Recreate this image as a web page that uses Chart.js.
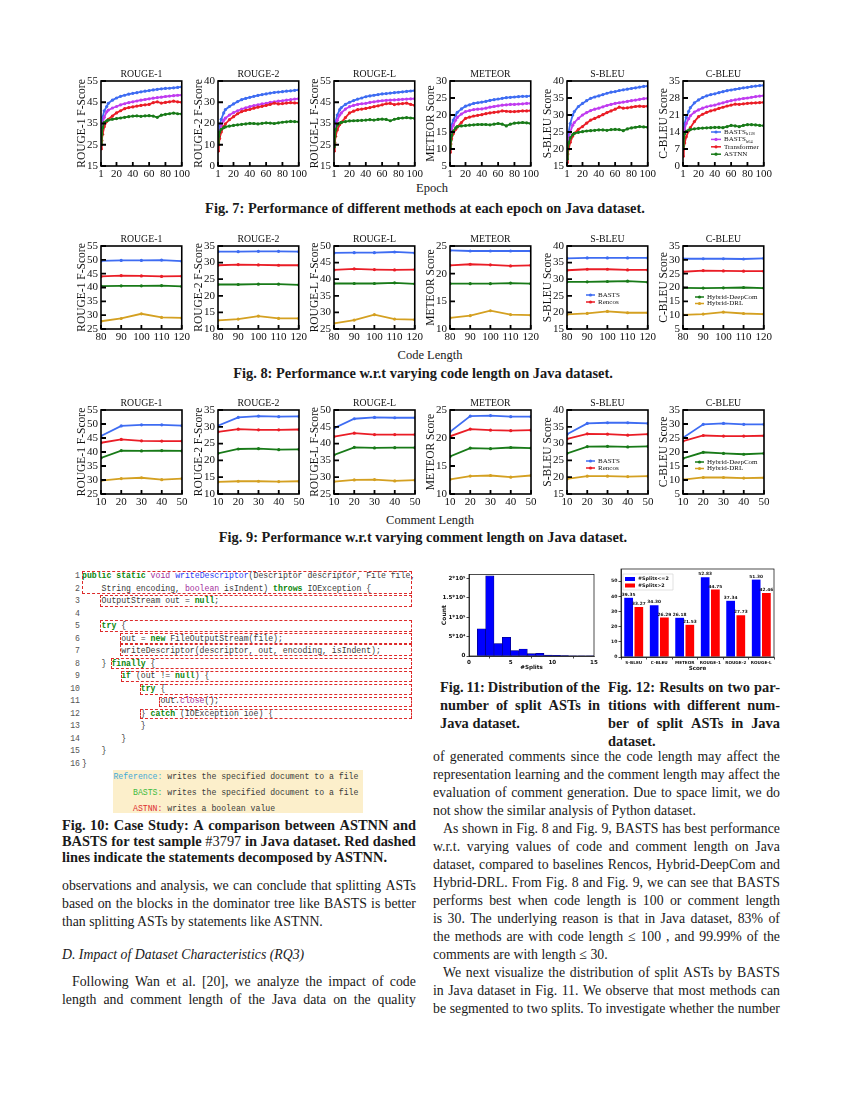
<!DOCTYPE html>
<html>
<head>
<meta charset="utf-8">
<script src="https://cdn.jsdelivr.net/npm/chart.js@4.4.1/dist/chart.umd.min.js"></script>
<style>
html, body { margin: 0; padding: 0; background: #fff; }
body { position: relative; width: 850px; height: 1100px; overflow: hidden; font-family: "Liberation Serif", serif; color: #1a1a1a; }
.t { position: absolute; white-space: nowrap; line-height: 18px; height: 18px; }
.c { transform: translateX(-50%); }
.cap { font-weight: bold; font-size: 14.4px; }
.body { font-size: 13.8px; }
.lbl { font-size: 12.5px; }
m { font-weight: normal; }
.code { position: absolute; font-family: "Liberation Mono", monospace; font-size: 8.6px; color: #3a3a3a; line-height: 12px; height: 12px; white-space: pre; transform: scaleX(0.95); transform-origin: 0 0; }
.ln { position: absolute; left: 60px; width: 21px; text-align: right; font-family: "Liberation Mono", monospace; font-size: 8.6px; color: #555; line-height: 12px; transform: scaleX(0.95); transform-origin: 0 0; }
.kw { color: #0a850a; font-weight: bold; }
.pu { color: #a3309c; }
.fn { color: #2a3af0; }
.box { position: absolute; border: 1px dashed #dd2a2a; box-sizing: border-box; }
.ref { position: absolute; left: 113px; top: 770px; width: 250px; height: 43px; background: #fcefcb; }
.rl { display: inline-block; width: 52px; text-align: right; }
</style>
</head>
<body>

<!-- figure labels and captions -->
<div class="t lbl c" style="left:432px;top:179px">Epoch</div>
<div class="t cap c" style="left:425px;top:199px">Fig. 7: Performance of different methods at each epoch on Java dataset.</div>
<div class="t lbl c" style="left:430px;top:346px">Code Length</div>
<div class="t cap c" style="left:423px;top:364px">Fig. 8: Performance w.r.t varying code length on Java dataset.</div>
<div class="t lbl c" style="left:430px;top:511px">Comment Length</div>
<div class="t cap c" style="left:423px;top:528px">Fig. 9: Performance w.r.t varying comment length on Java dataset.</div>

<!-- Fig 10 reference box -->
<div class="ref"></div>
<div class="code" style="left:113px;top:771px"><span class="rl" style="color:#3fa9d8">Reference:</span> writes the specified document to a file</div>
<div class="code" style="left:113px;top:787px"><span class="rl" style="color:#3fbb3f">BASTS:</span> writes the specified document to a file</div>
<div class="code" style="left:113px;top:803px"><span class="rl" style="color:#dd3030">ASTNN:</span> writes a boolean value</div>

<div class="t cap j" style="left:62px;top:817px;width:354px;line-height:16px">Fig. 10: Case Study: A comparison between ASTNN and</div>
<div class="t cap j" style="left:62px;top:833px;width:354px;line-height:16px">BASTS for test sample <m>#3797</m> in Java dataset. Red dashed</div>
<div class="t cap" style="left:62px;top:849px;line-height:16px">lines indicate the statements decomposed by ASTNN.</div>

<div class="t cap j" style="left:440px;top:678px;width:160px">Fig. 11: Distribution of the</div>
<div class="t cap j" style="left:440px;top:696px;width:160px">number of split ASTs in</div>
<div class="t cap" style="left:440px;top:714px">Java dataset.</div>

<div class="t cap j" style="left:608px;top:678px;width:172px">Fig. 12: Results on two par-</div>
<div class="t cap j" style="left:608px;top:696px;width:172px">titions with different num-</div>
<div class="t cap j" style="left:608px;top:714px;width:172px">ber of split ASTs in Java</div>
<div class="t cap" style="left:608px;top:732px">dataset.</div>

<!-- left column text -->
<div class="t body j" style="left:62px;top:877px;width:354px">observations and analysis, we can conclude that splitting ASTs</div>
<div class="t body j" style="left:62px;top:895px;width:354px">based on the blocks in the dominator tree like BASTS is better</div>
<div class="t body" style="left:62px;top:913px">than splitting ASTs by statements like ASTNN.</div>
<div class="t body" style="left:62px;top:946px;font-style:italic">D. Impact of Dataset Characteristics (RQ3)</div>
<div class="t body j" style="left:72px;top:973px;width:344px">Following Wan et al. [20], we analyze the impact of code</div>
<div class="t body j" style="left:62px;top:991px;width:354px">length and comment length of the Java data on the quality</div>

<!-- right column text -->
<div class="t body j" style="left:433px;top:748px;width:347px">of generated comments since the code length may affect the</div>
<div class="t body j" style="left:433px;top:766px;width:347px">representation learning and the comment length may affect the</div>
<div class="t body j" style="left:433px;top:784px;width:347px">evaluation of comment generation. Due to space limit, we do</div>
<div class="t body" style="left:433px;top:802px">not show the similar analysis of Python dataset.</div>
<div class="t body j" style="left:443px;top:820px;width:337px">As shown in Fig. 8 and Fig. 9, BASTS has best performance</div>
<div class="t body j" style="left:433px;top:838px;width:347px">w.r.t. varying values of code and comment length on Java</div>
<div class="t body j" style="left:433px;top:856px;width:347px">dataset, compared to baselines Rencos, Hybrid-DeepCom and</div>
<div class="t body j" style="left:433px;top:874px;width:347px">Hybrid-DRL. From Fig. 8 and Fig. 9, we can see that BASTS</div>
<div class="t body j" style="left:433px;top:892px;width:347px">performs best when code length is 100 or comment length</div>
<div class="t body j" style="left:433px;top:910px;width:347px">is 30. The underlying reason is that in Java dataset, 83% of</div>
<div class="t body j" style="left:433px;top:928px;width:347px">the methods are with code length ≤ 100 , and 99.99% of the</div>
<div class="t body" style="left:433px;top:946px">comments are with length ≤ 30.</div>
<div class="t body j" style="left:443px;top:964px;width:337px">We next visualize the distribution of split ASTs by BASTS</div>
<div class="t body j" style="left:433px;top:982px;width:347px">in Java dataset in Fig. 11. We observe that most methods can</div>
<div class="t body j" style="left:433px;top:1000px;width:347px">be segmented to two splits. To investigate whether the number</div>

<script>
// ---------- data: Fig. 7 (per epoch) ----------
const epochs = [1, 2, 3, 5, 8, 10, 15, 20, 25, 30, 35, 40, 45, 50, 55, 60, 65, 70, 75, 80, 85, 90, 95, 100];
const epochTicks = [1, 20, 40, 60, 80, 100];

const ep_r1_b128  = [30, 35, 38, 41, 43, 44.5, 46, 47, 47.8, 48.3, 48.8, 49.2, 49.5, 49.9, 50.2, 50.5, 50.8, 51.1, 51.3, 51.5, 51.6, 51.8, 52.0, 52.2];
const ep_r1_b64   = [28, 32, 35, 38, 40.5, 41.3, 42.3, 43, 43.8, 44.3, 44.8, 45.2, 45.6, 46, 46.3, 46.6, 46.9, 47.2, 47.4, 47.7, 47.9, 48.1, 48.3, 48.4];
const ep_r1_trans = [23, 27, 30, 33.5, 36, 37, 38.5, 40, 41, 42, 42.5, 42.8, 43.2, 43.5, 43.8, 44, 44.8, 45.2, 44.6, 44.9, 45.2, 45.5, 45.2, 45];
const ep_r1_astnn = [25, 30, 33, 35.5, 36.3, 36.6, 37, 37.3, 37.6, 37.9, 38.2, 38.5, 38.6, 38.4, 38.6, 38.7, 38.5, 37.9, 38.9, 39.3, 39.6, 39.9, 39.6, 39.5];

const ep_r2_b128  = [12, 16, 19, 22, 25, 26.5, 28, 29.2, 30.3, 31.2, 31.8, 32.3, 32.8, 33.2, 33.6, 33.9, 34.3, 34.6, 34.8, 35, 35.2, 35.4, 35.6, 35.8];
const ep_r2_b64   = [10, 13, 16, 19, 21.5, 22.5, 24, 25.1, 26, 26.8, 27.4, 27.9, 28.4, 28.8, 29.2, 29.5, 29.9, 30.2, 30.5, 30.7, 31, 31.2, 31.5, 31.7];
const ep_r2_trans = [7, 10, 13, 16, 18.5, 19.8, 21.8, 23.2, 24.6, 25.6, 26.2, 26.6, 27.2, 27.7, 28.1, 28.5, 29, 29.6, 29.2, 29.4, 29.6, 29.8, 29.7, 29.6];
const ep_r2_astnn = [10, 14, 16, 17.3, 18, 18.4, 18.8, 19.1, 19.4, 19.6, 19.8, 20.1, 20, 19.8, 20.1, 20.3, 20.2, 20, 20.3, 20.6, 20.8, 21, 20.9, 20.8];

const ep_rl_b128  = [28, 33, 36, 39, 41.5, 42.5, 44, 45, 45.8, 46.5, 47, 47.6, 48, 48.3, 48.6, 48.9, 49.1, 49.3, 49.5, 49.7, 49.9, 50.1, 50.3, 50.5];
const ep_rl_b64   = [26, 30, 33, 36.5, 39, 40, 41.8, 42.9, 43.5, 44, 44.3, 44.5, 44.9, 45.2, 45.5, 45.7, 45.9, 46, 46.1, 46.2, 46.4, 46.5, 46.6, 46.7];
const ep_rl_trans = [22, 26, 29, 32, 34.5, 35.5, 37.8, 40, 40.8, 41.5, 41.8, 42.1, 42.5, 42.9, 43.3, 43.8, 44.3, 44.5, 43.9, 44.2, 44.4, 44.6, 44, 43.5];
const ep_rl_astnn = [24, 29, 32, 34.3, 35.2, 35.5, 35.9, 36.2, 36.3, 36.4, 36.5, 36.6, 36.8, 36.6, 36.9, 37.1, 36.9, 36.3, 37, 37.4, 37.6, 37.8, 37.6, 37.4];

const ep_me_b128  = [13, 15.5, 17, 18.5, 20, 20.8, 21.8, 22.6, 23, 23.4, 23.6, 23.8, 24, 24.3, 24.5, 24.7, 24.9, 25.1, 25.2, 25.3, 25.4, 25.5, 25.5, 25.6];
const ep_me_b64   = [12, 14, 15.5, 17, 18.5, 19.3, 20.3, 21, 21.3, 21.6, 21.7, 21.8, 22, 22.3, 22.5, 22.7, 22.9, 23, 23.1, 23.1, 23.2, 23.3, 23.4, 23.4];
const ep_me_trans = [9, 11.5, 13, 14.5, 15.8, 16.5, 17.8, 19, 19.4, 19.7, 19.9, 20.1, 20.4, 20.6, 20.8, 20.9, 21.2, 21.1, 21, 21, 21.1, 21.2, 21.2, 21.3];
const ep_me_astnn = [10, 12.5, 14, 15.3, 16.2, 16.6, 16.8, 16.9, 17, 17.1, 17.2, 17.2, 17.2, 17.1, 17.3, 17.5, 17.3, 16.8, 17.3, 17.6, 17.7, 17.8, 17.7, 17.5];

const ep_sb_b128  = [20, 23, 25, 27.5, 30, 31, 32.5, 33.4, 34.2, 34.9, 35.3, 35.6, 36, 36.4, 36.7, 36.9, 37.2, 37.4, 37.6, 37.8, 38, 38.2, 38.4, 38.5];
const ep_sb_b64   = [19, 21.5, 23, 25, 27, 27.8, 29, 30, 30.7, 31.3, 31.7, 32, 32.4, 32.8, 33.1, 33.4, 33.6, 33.8, 34, 34.2, 34.4, 34.6, 34.8, 34.9];
const ep_sb_trans = [16, 18.5, 20, 22, 23.8, 24.6, 25.8, 26.6, 27.6, 28.5, 29, 29.5, 30.1, 30.7, 31.2, 31.7, 32.3, 32, 32.1, 32.3, 32.5, 32.6, 32.5, 32.6];
const ep_sb_astnn = [17, 20, 21.8, 23.3, 24.2, 24.6, 24.9, 25.1, 25.3, 25.4, 25.5, 25.6, 25.6, 25.5, 25.7, 25.8, 25.7, 25.4, 25.9, 26.2, 26.4, 26.6, 26.5, 26.4];

const ep_cb_b128  = [12, 15.5, 17.5, 20, 22.5, 24, 26, 27.2, 28.2, 28.9, 29.4, 29.7, 30.2, 30.6, 31, 31.3, 31.6, 31.9, 32.2, 32.4, 32.7, 32.9, 33.1, 33.2];
const ep_cb_b64   = [10, 13, 15, 17.5, 19.5, 20.7, 22.2, 23.1, 23.8, 24.4, 24.8, 25.1, 25.6, 26, 26.5, 26.9, 27.2, 27.5, 27.8, 28, 28.3, 28.6, 28.8, 29];
const ep_cb_trans = [4, 7, 9.5, 12, 14.5, 15.8, 18.3, 20.3, 21.3, 22.1, 22.7, 23.1, 23.7, 24.2, 24.7, 25.1, 25.5, 25.4, 25.6, 25.8, 25.9, 26, 26.1, 26.2];
const ep_cb_astnn = [8, 11.5, 13.3, 14.3, 14.8, 15, 15.3, 15.5, 15.6, 15.7, 15.8, 15.9, 15.9, 15.8, 16.2, 16.7, 16.5, 16.2, 16.7, 17, 17, 16.9, 16.7, 16.6];

// ---------- data: Fig. 8 (code length) ----------
const codeLen = [80, 90, 100, 110, 120];
const cl_r1_basts = [49.6, 49.8, 49.8, 49.9, 49.5];
const cl_r1_rencos = [44.0, 44.3, 44.2, 44.0, 44.1];
const cl_r1_hdc = [40.5, 40.6, 40.6, 40.7, 40.4];
const cl_r1_hdrl = [27.8, 28.8, 30.5, 29.2, 29.0];
const cl_r2_basts = [33.3, 33.3, 33.4, 33.4, 33.3];
const cl_r2_rencos = [29.2, 29.4, 29.3, 29.2, 29.2];
const cl_r2_hdc = [23.4, 23.4, 23.5, 23.5, 23.3];
const cl_r2_hdrl = [12.6, 13.0, 13.9, 13.2, 13.2];
const cl_rl_basts = [47.9, 48.0, 48.0, 48.2, 47.9];
const cl_rl_rencos = [42.8, 43.1, 42.9, 42.8, 42.9];
const cl_rl_hdc = [38.7, 38.7, 38.7, 38.9, 38.6];
const cl_rl_hdrl = [26.7, 27.7, 29.3, 28.0, 27.8];
const cl_me_basts = [24.2, 24.1, 24.1, 24.1, 24.1];
const cl_me_rencos = [21.5, 21.7, 21.6, 21.4, 21.5];
const cl_me_hdc = [18.2, 18.2, 18.2, 18.3, 18.2];
const cl_me_hdrl = [12.0, 12.4, 13.3, 12.6, 12.5];
const cl_sb_basts = [36.3, 36.4, 36.4, 36.4, 36.4];
const cl_sb_rencos = [32.7, 33.0, 33.0, 32.8, 32.8];
const cl_sb_hdc = [29.2, 29.2, 29.3, 29.4, 29.1];
const cl_sb_hdrl = [19.4, 19.7, 20.3, 19.9, 19.9];
const cl_cb_basts = [30.4, 30.4, 30.4, 30.3, 30.5];
const cl_cb_rencos = [25.7, 26.1, 26.0, 25.9, 25.9];
const cl_cb_hdc = [19.9, 19.8, 19.9, 20.0, 19.8];
const cl_cb_hdrl = [10.1, 10.4, 11.1, 10.6, 10.4];

// ---------- data: Fig. 9 (comment length) ----------
const commentLen = [10, 20, 30, 40, 50];
const ml_r1_basts = [45.7, 49.3, 49.7, 49.7, 49.4];
const ml_r1_rencos = [43.3, 44.5, 44.0, 43.9, 43.9];
const ml_r1_hdc = [37.9, 40.5, 40.4, 40.5, 40.4];
const ml_r1_hdrl = [29.8, 30.5, 30.8, 30.1, 30.5];
const ml_r2_basts = [30.3, 32.8, 33.2, 33.0, 33.1];
const ml_r2_rencos = [28.5, 29.3, 29.1, 29.1, 29.2];
const ml_r2_hdc = [22.1, 23.4, 23.5, 23.2, 23.3];
const ml_r2_hdrl = [13.6, 13.8, 13.8, 13.7, 13.8];
const ml_rl_basts = [44.6, 47.4, 47.8, 47.7, 47.7];
const ml_rl_rencos = [42.1, 43.1, 42.7, 42.7, 42.7];
const ml_rl_hdc = [36.6, 38.9, 38.7, 38.8, 38.8];
const ml_rl_hdrl = [28.7, 29.2, 29.3, 28.9, 29.1];
const ml_me_basts = [21.1, 23.9, 24.0, 23.8, 23.8];
const ml_me_rencos = [20.3, 21.6, 21.4, 21.3, 21.4];
const ml_me_hdc = [16.7, 18.2, 18.1, 18.3, 18.2];
const ml_me_hdrl = [12.6, 13.2, 13.3, 13.0, 13.3];
const ml_sb_basts = [32.8, 36.0, 36.2, 36.2, 36.0];
const ml_sb_rencos = [31.4, 32.9, 32.8, 32.5, 32.8];
const ml_sb_hdc = [27.1, 29.1, 29.2, 29.0, 29.2];
const ml_sb_hdrl = [19.5, 20.3, 20.3, 20.2, 20.3];
const ml_cb_basts = [25.1, 29.9, 30.2, 29.9, 29.9];
const ml_cb_rencos = [23.9, 25.9, 25.7, 25.7, 25.8];
const ml_cb_hdc = [17.7, 19.9, 19.5, 19.2, 19.5];
const ml_cb_hdrl = [10.1, 10.9, 10.9, 10.7, 10.8];

// ---------- data: Fig. 11 / Fig. 12 ----------
const splitBinStarts = [1, 2, 3, 4, 5, 6, 7, 8, 9, 10, 11, 12, 13, 14];
const splitCounts = [70000, 206000, 32000, 48000, 14000, 18000, 6000, 7000, 2500, 2000, 1000, 500, 300, 100];
const splitTicksX = [0, 5, 10, 15];
const splitTicksY = [0, 50000, 100000, 150000, 200000];
const splitTickLabels = ['0', '5*10\u2074', '1*10\u2075', '1.5*10\u2075', '2*10\u2075'];

const scoreNames = ['S-BLEU', 'C-BLEU', 'METEOR', 'ROUGE-1', 'ROUGE-2', 'ROUGE-L'];
const scoreFew = [39.35, 34.30, 26.18, 52.83, 37.34, 51.30];
const scoreMany = [33.27, 26.29, 21.53, 44.75, 27.73, 42.46];
const scoreTicks = [0, 10, 20, 30, 40, 50];

// ---------- shared axis text ----------
const metricNames = ['ROUGE-1', 'ROUGE-2', 'ROUGE-L', 'METEOR', 'S-BLEU', 'C-BLEU'];
const yTitles = ['ROUGE-1 F-Score', 'ROUGE-2 F-Score', 'ROUGE-L F-Score', 'METEOR Score', 'S-BLEU Score', 'C-BLEU Score'];
const yTicksEpoch = [[15, 25, 35, 45, 55], [0, 10, 20, 30, 40], [15, 25, 35, 45, 55], [5, 10, 15, 20, 25, 30], [15, 20, 25, 30, 35, 40], [0, 7, 14, 21, 28, 35]];
const yTicksLen = [[25, 30, 35, 40, 45, 50, 55], [10, 15, 20, 25, 30, 35], [25, 30, 35, 40, 45, 50], [10, 15, 20, 25], [15, 20, 25, 30, 35, 40], [5, 10, 15, 20, 25, 30, 35]];

const BLUE = '#3e6cf2', MAG = '#c03cf0', RED = '#ea1d26', GRN = '#187a18', GOLD = '#d4a021';
const SERIF = '"Liberation Serif", serif';
const SANS = '"DejaVu Sans", sans-serif';
Chart.defaults.font.family = SERIF;
Chart.defaults.color = '#111';

// spread justified single lines word by word
document.querySelectorAll('.j').forEach(el => {
  const words = el.innerHTML.trim().split(/\s+/);
  el.innerHTML = words.map(w => '<span>' + w + '</span>').join('');
  el.style.display = 'flex';
  el.style.justifyContent = 'space-between';
});

// legends drawn inside the plot, keyed by canvas id
const legendSpecs = {
  f7cb: { dx: 28, dy: 51, gap: 7.4, len: 10, size: 7, items: [['BASTS', 'b128', BLUE], ['BASTS', 'b64', MAG], ['Transformer', '', RED], ['ASTNN', '', GRN]] },
  f8sb: { dx: 19, dy: 49, gap: 7, len: 9, size: 7, items: [['BASTS', '', BLUE], ['Rencos', '', RED]] },
  f8cb: { dx: 12, dy: 51, gap: 6.5, len: 9, size: 7, items: [['Hybrid-DeepCom', '', GRN], ['Hybrid-DRL', '', GOLD]] },
  f9sb: { dx: 19, dy: 51, gap: 7, len: 9, size: 7, items: [['BASTS', '', BLUE], ['Rencos', '', RED]] },
  f9cb: { dx: 12, dy: 52, gap: 6.5, len: 9, size: 7, items: [['Hybrid-DeepCom', '', GRN], ['Hybrid-DRL', '', GOLD]] },
  f12: { dx: 4, dy: 10, gap: 6.5, len: 10, size: 4.8, patch: true, box: true, items: [['#Splits<=2', '', '#0000ff'], ['#Splits>2', '', '#ff0000']] }
};

// frame box, inward ticks and panel title
const framePlugin = {
  id: 'frame',
  afterDraw(chart, args, o) {
    if (!o.lw) return;
    const { ctx, chartArea: a, scales: { x, y } } = chart;
    ctx.save();
    ctx.strokeStyle = '#000';
    ctx.lineWidth = o.lw;
    ctx.strokeRect(a.left, a.top, a.right - a.left, a.bottom - a.top);
    if (o.inward) {
      ctx.lineWidth = 1.8;
      ctx.beginPath();
      x.ticks.forEach(t => { const p = x.getPixelForValue(t.value); ctx.moveTo(p, a.bottom); ctx.lineTo(p, a.bottom - 4); });
      y.ticks.forEach(t => { const p = y.getPixelForValue(t.value); ctx.moveTo(a.left, p); ctx.lineTo(a.left + 5, p); });
      ctx.stroke();
    }
    if (o.title) {
      ctx.fillStyle = '#111';
      ctx.font = '9.8px ' + SERIF;
      ctx.textAlign = 'center';
      ctx.textBaseline = 'middle';
      ctx.fillText(o.title, (a.left + a.right) / 2, a.top - 7);
    }
    ctx.restore();
  }
};

const legendPlugin = {
  id: 'inLegend',
  afterDraw(chart) {
    const spec = legendSpecs[chart.canvas.id];
    if (!spec) return;
    const { ctx, chartArea: a } = chart;
    ctx.save();
    const x0 = a.left + spec.dx;
    if (spec.box) {
      ctx.strokeStyle = '#ccc';
      ctx.lineWidth = 0.6;
      ctx.fillStyle = 'rgba(255,255,255,0.8)';
      ctx.beginPath();
      ctx.rect(x0 - 2, a.top + spec.dy - 5, 50, spec.gap * spec.items.length + 3);
      ctx.fill(); ctx.stroke();
    }
    spec.items.forEach((it, i) => {
      const yy = a.top + spec.dy + i * spec.gap;
      ctx.fillStyle = it[2];
      ctx.strokeStyle = it[2];
      if (spec.patch) {
        ctx.fillRect(x0, yy - 2, spec.len, 4);
      } else {
        ctx.lineWidth = 1.5;
        ctx.beginPath(); ctx.moveTo(x0, yy); ctx.lineTo(x0 + spec.len, yy); ctx.stroke();
        ctx.beginPath(); ctx.arc(x0 + spec.len / 2, yy, 1.6, 0, Math.PI * 2); ctx.fill();
      }
      ctx.fillStyle = '#111';
      ctx.textBaseline = 'middle';
      ctx.textAlign = 'left';
      ctx.font = (spec.patch ? 'bold ' + spec.size + 'px ' + SANS : spec.size + 'px ' + SERIF);
      const tx = x0 + spec.len + 3;
      ctx.fillText(it[0], tx, yy);
      if (it[1]) {
        const w = ctx.measureText(it[0]).width;
        ctx.font = (spec.size * 0.62) + 'px ' + SERIF;
        ctx.fillText(it[1], tx + w + 0.3, yy + 2);
      }
    });
    ctx.restore();
  }
};

const barLabelPlugin = {
  id: 'barLabels',
  afterDatasetsDraw(chart, args, o) {
    if (!o.show) return;
    const { ctx } = chart;
    ctx.save();
    ctx.font = 'bold 4.3px ' + SANS;
    ctx.fillStyle = '#111';
    ctx.textAlign = 'center';
    ctx.textBaseline = 'bottom';
    chart.data.datasets.forEach((ds, i) => {
      chart.getDatasetMeta(i).data.forEach((el, j) => ctx.fillText(ds.data[j].toFixed(2), el.x, el.y - 0.5));
    });
    ctx.restore();
  }
};

Chart.register(framePlugin, legendPlugin, barLabelPlugin);

function addCanvas(left, top, w, h, id) {
  const d = document.createElement('div');
  d.style.cssText = 'position:absolute;left:' + left + 'px;top:' + top + 'px;width:' + w + 'px;height:' + h + 'px';
  const c = document.createElement('canvas');
  if (id) c.id = id;
  d.appendChild(c);
  document.body.appendChild(d);
  return c;
}

const panelLefts = [101, 218, 334, 450, 567, 683];
const plotW = 81;

function linePanel(i, plotTop, plotH, xs, xTicks, yTicks, series, id) {
  const c = addCanvas(panelLefts[i] - 30, plotTop - 14, plotW + 40, plotH + 28, id);
  new Chart(c, {
    type: 'line',
    data: {
      datasets: series.map(s => ({
        label: s[0],
        data: xs.map((x, k) => ({ x: x, y: s[1][k] })),
        borderColor: s[2], backgroundColor: s[2],
        borderWidth: 1.8, pointRadius: 1.6, pointBorderWidth: 0, pointHoverRadius: 0,
        fill: false, tension: 0
      }))
    },
    options: {
      animation: false, responsive: true, maintainAspectRatio: false, events: [],
      layout: { padding: { top: 14, right: 10, left: 0, bottom: 0 } },
      plugins: { legend: { display: false }, tooltip: { enabled: false }, frame: { title: metricNames[i], inward: true, lw: 1.6 } },
      scales: {
        x: {
          type: 'linear', min: xTicks[0], max: xTicks[xTicks.length - 1],
          afterBuildTicks: s => { s.ticks = xTicks.map(v => ({ value: v })); },
          afterFit: s => { s.height = 14; },
          grid: { display: false, drawTicks: false }, border: { display: false },
          ticks: { font: { size: 11 }, padding: 2, maxRotation: 0, autoSkip: false }
        },
        y: {
          min: yTicks[0], max: yTicks[yTicks.length - 1],
          afterBuildTicks: s => { s.ticks = yTicks.map(v => ({ value: v })); },
          afterFit: s => { s.width = 30; },
          grid: { display: false, drawTicks: false }, border: { display: false },
          ticks: { font: { size: 11 }, padding: 3, autoSkip: false },
          title: { display: true, text: yTitles[i], font: { size: 11.5 }, padding: { top: 4, bottom: 0 } }
        }
      }
    }
  });
}

// Fig. 7
const epochSeries = [
  [ep_r1_b128, ep_r1_b64, ep_r1_trans, ep_r1_astnn],
  [ep_r2_b128, ep_r2_b64, ep_r2_trans, ep_r2_astnn],
  [ep_rl_b128, ep_rl_b64, ep_rl_trans, ep_rl_astnn],
  [ep_me_b128, ep_me_b64, ep_me_trans, ep_me_astnn],
  [ep_sb_b128, ep_sb_b64, ep_sb_trans, ep_sb_astnn],
  [ep_cb_b128, ep_cb_b64, ep_cb_trans, ep_cb_astnn]
];
epochSeries.forEach((s, i) => {
  linePanel(i, 81, 85, epochs, epochTicks, yTicksEpoch[i],
    [['ASTNN', s[3], GRN], ['Transformer', s[2], RED], ['BASTS b64', s[1], MAG], ['BASTS b128', s[0], BLUE]],
    i === 5 ? 'f7cb' : null);
});

// Fig. 8
const codeSeries = [
  [cl_r1_basts, cl_r1_rencos, cl_r1_hdc, cl_r1_hdrl],
  [cl_r2_basts, cl_r2_rencos, cl_r2_hdc, cl_r2_hdrl],
  [cl_rl_basts, cl_rl_rencos, cl_rl_hdc, cl_rl_hdrl],
  [cl_me_basts, cl_me_rencos, cl_me_hdc, cl_me_hdrl],
  [cl_sb_basts, cl_sb_rencos, cl_sb_hdc, cl_sb_hdrl],
  [cl_cb_basts, cl_cb_rencos, cl_cb_hdc, cl_cb_hdrl]
];
codeSeries.forEach((s, i) => {
  linePanel(i, 246, 83, codeLen, codeLen, yTicksLen[i],
    [['Hybrid-DRL', s[3], GOLD], ['Hybrid-DeepCom', s[2], GRN], ['Rencos', s[1], RED], ['BASTS', s[0], BLUE]],
    i === 4 ? 'f8sb' : (i === 5 ? 'f8cb' : null));
});

// Fig. 9
const commentSeries = [
  [ml_r1_basts, ml_r1_rencos, ml_r1_hdc, ml_r1_hdrl],
  [ml_r2_basts, ml_r2_rencos, ml_r2_hdc, ml_r2_hdrl],
  [ml_rl_basts, ml_rl_rencos, ml_rl_hdc, ml_rl_hdrl],
  [ml_me_basts, ml_me_rencos, ml_me_hdc, ml_me_hdrl],
  [ml_sb_basts, ml_sb_rencos, ml_sb_hdc, ml_sb_hdrl],
  [ml_cb_basts, ml_cb_rencos, ml_cb_hdc, ml_cb_hdrl]
];
commentSeries.forEach((s, i) => {
  linePanel(i, 410, 84, commentLen, commentLen, yTicksLen[i],
    [['Hybrid-DRL', s[3], GOLD], ['Hybrid-DeepCom', s[2], GRN], ['Rencos', s[1], RED], ['BASTS', s[0], BLUE]],
    i === 4 ? 'f9sb' : (i === 5 ? 'f9cb' : null));
});

// small matplotlib-like axes for Fig. 11 and Fig. 12
const smallAxis = (size) => ({
  grid: { display: true, drawOnChartArea: false, drawTicks: true, tickLength: 2.5, color: '#000', lineWidth: 0.7 },
  border: { display: true, color: '#000', width: 0.7 },
  ticks: { font: { family: SANS, size: size, weight: 'bold' }, color: '#111', padding: 1, autoSkip: false, maxRotation: 0 }
});

// Fig. 11 histogram
{
  const c = addCanvas(437, 570, 163, 102);
  const xa = smallAxis(5.6), ya = smallAxis(5.6);
  ya.ticks.callback = (v, idx) => splitTickLabels[idx];
  new Chart(c, {
    type: 'bar',
    data: { datasets: [{ data: splitBinStarts.map((b, k) => ({ x: b + 0.5, y: splitCounts[k] })), backgroundColor: '#0000ff', borderColor: '#000070', borderWidth: 0.6, barPercentage: 1, categoryPercentage: 1 }] },
    options: {
      animation: false, responsive: true, maintainAspectRatio: false, events: [],
      layout: { padding: { top: 4, right: 6, left: 0, bottom: 0 } },
      plugins: { legend: { display: false }, tooltip: { enabled: false }, frame: { lw: 0.7 } },
      scales: {
        x: Object.assign(xa, {
          type: 'linear', min: 0, max: 15, offset: false,
          afterBuildTicks: s => { s.ticks = splitTicksX.map(v => ({ value: v })); },
          afterFit: s => { s.height = 16; },
          title: { display: true, text: '#Splits', font: { family: SANS, size: 5.6, weight: 'bold' }, color: '#111', padding: { top: 0, bottom: 1 } }
        }),
        y: Object.assign(ya, {
          min: 0, max: 210000,
          afterBuildTicks: s => { s.ticks = splitTicksY.map(v => ({ value: v })); },
          afterFit: s => { s.width = 32; },
          title: { display: true, text: 'Count', font: { family: SANS, size: 6, weight: 'bold' }, color: '#111', padding: { top: 4, bottom: 0 } }
        })
      }
    }
  });
}

// Fig. 12 grouped bars
{
  const c = addCanvas(603, 563, 175, 110, 'f12');
  const xa = smallAxis(4.2), ya = smallAxis(4.6);
  new Chart(c, {
    type: 'bar',
    data: {
      labels: scoreNames,
      datasets: [
        { label: '#Splits<=2', data: scoreFew, backgroundColor: '#0000ff', borderColor: '#ffffff', borderWidth: 0.4, barPercentage: 0.94, categoryPercentage: 0.8 },
        { label: '#Splits>2', data: scoreMany, backgroundColor: '#ff0000', borderColor: '#ffffff', borderWidth: 0.4, barPercentage: 0.94, categoryPercentage: 0.8 }
      ]
    },
    options: {
      animation: false, responsive: true, maintainAspectRatio: false, events: [],
      layout: { padding: { top: 6, right: 4, left: 0, bottom: 0 } },
      plugins: { legend: { display: false }, tooltip: { enabled: false }, frame: { lw: 0.7 }, barLabels: { show: true } },
      scales: {
        x: Object.assign(xa, {
          afterFit: s => { s.height = 16; },
          title: { display: true, text: 'Score', font: { family: SANS, size: 5.6, weight: 'bold' }, color: '#111', padding: { top: 0, bottom: 1 } }
        }),
        y: Object.assign(ya, {
          min: 0, max: 58,
          afterBuildTicks: s => { s.ticks = scoreTicks.map(v => ({ value: v })); },
          afterFit: s => { s.width = 18; }
        })
      }
    }
  });
}

// Fig. 10 code listing
const codeLines = [
  '<span class="kw">public static</span> <span class="pu">void</span> <span class="fn">writeDescriptor</span>(Descriptor descriptor, File file,',
  '    String encoding, <span class="pu">boolean</span> isIndent) <span class="kw">throws</span> IOException {',
  '    OutputStream out = <span class="kw">null</span>;',
  '',
  '    <span class="kw">try</span> {',
  '        out = <span class="kw">new</span> FileOutputStream(file);',
  '        writeDescriptor(descriptor, out, encoding, isIndent);',
  '    } <span class="kw">finally</span> {',
  '        <span class="kw">if</span> (out != <span class="kw">null</span>) {',
  '            <span class="kw">try</span> {',
  '                out.<span class="pu">close</span>();',
  '            } <span class="kw">catch</span> (IOException ioe) {',
  '            }',
  '        }',
  '    }',
  '}'
];
codeLines.forEach((html, i) => {
  const top = 570 + i * 12.53;
  const n = document.createElement('div');
  n.className = 'ln'; n.style.top = top + 'px'; n.textContent = String(i + 1);
  document.body.appendChild(n);
  const d = document.createElement('div');
  d.className = 'code'; d.style.left = '82px'; d.style.top = top + 'px'; d.innerHTML = html;
  document.body.appendChild(d);
});
const stmtBoxes = [[82, 571, 412, 593.5], [100, 595, 412, 606.5], [100, 620, 412, 631.5], [120, 632.5, 412, 644], [120, 644, 412, 656], [111, 658, 412, 669], [120.5, 671, 412, 682], [140, 684, 412, 694.5], [159, 696.5, 412, 707], [140, 709, 412, 719]];
stmtBoxes.forEach(b => {
  const d = document.createElement('div');
  d.className = 'box';
  d.style.cssText = 'left:' + b[0] + 'px;top:' + b[1] + 'px;width:' + (b[2] - b[0]) + 'px;height:' + (b[3] - b[1]) + 'px';
  document.body.appendChild(d);
});
</script>
</body>
</html>
